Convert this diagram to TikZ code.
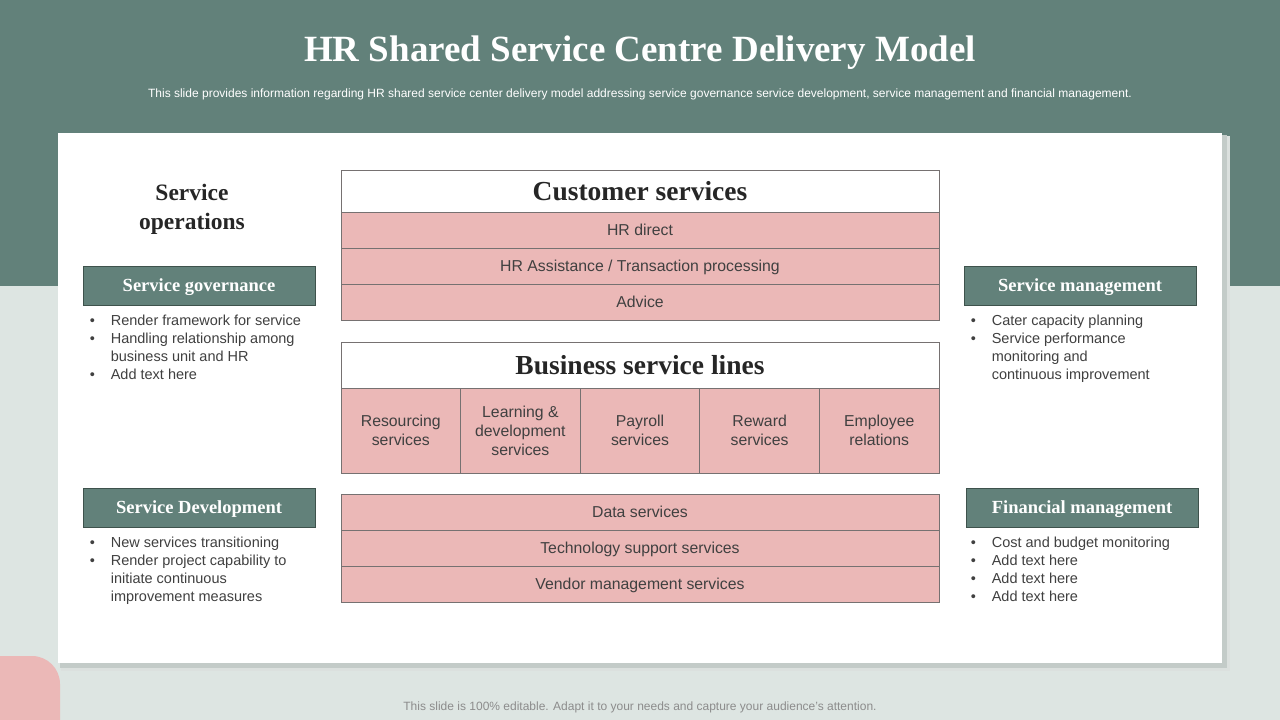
\documentclass[tikz,border=0pt]{standalone}
\usepackage{fontspec}
\setmainfont{Liberation Sans}
\newfontfamily\headfont{Liberation Serif}
\usetikzlibrary{positioning}
\definecolor{sagegreen}{HTML}{62817A}
\definecolor{sageedge}{HTML}{3E524C}
\definecolor{palebg}{HTML}{DDE5E2}
\definecolor{rosefill}{HTML}{EBB8B7}
\definecolor{textgray}{HTML}{404040}
\definecolor{headgray}{HTML}{262626}
\definecolor{linegray}{HTML}{767171}
\definecolor{shadowgray}{HTML}{C3CBC8}
\definecolor{notegray}{HTML}{8C8C8C}
\newcommand{\bul}{\makebox[21pt][l]{\textbullet}}
\newcommand{\ind}{\hspace*{21pt}}

\begin{document}
\begin{tikzpicture}[x=1pt,y=-1pt,
    headcell/.style={draw=linegray, fill=white, line width=1pt, outer sep=0pt, inner sep=0pt,
        minimum width=598pt, minimum height=42pt, text=headgray,
        font=\headfont\bfseries\fontsize{27.5}{30}\selectfont},
    pinkcell/.style={draw=linegray, fill=rosefill, line width=1pt, outer sep=0pt, inner sep=0pt,
        text=textgray, align=center, font=\fontsize{15.8}{19}\selectfont},
    rowcell/.style={pinkcell, minimum width=598pt, minimum height=36pt, text height=11.5pt, text depth=0pt},
    linecell/.style={pinkcell, minimum width=119.6pt, minimum height=85pt},
    greenlabel/.style={draw=sageedge, fill=sagegreen, line width=0.8pt, inner sep=0pt,
        minimum width=232pt, minimum height=39pt, text=white, text height=11.5pt, text depth=0pt,
        font=\headfont\bfseries\fontsize{18.5}{20}\selectfont},
    bulletlist/.style={inner sep=0pt, align=left, text=textgray,
        font=\fontsize{14.5}{17.8}\selectfont}]
    \useasboundingbox (0,0) rectangle (1280,720);
    %sfondo
    \fill[palebg] (0,0) rectangle (1280,720);
    \fill[sagegreen] (0,0) rectangle (1280,286);
    \fill[rosefill] (0,720) -- (0,656) [rounded corners=28pt] -- (60,656) [sharp corners] -- (60,720) -- cycle;
    %pannello bianco con ombra
    \fill[shadowgray!60] (61,136) rectangle (1230,671);
    \fill[shadowgray] (60,135) rectangle (1227,668);
    \fill[white] (58,133) rectangle (1222,663);
    %titolo
    \node[text=white, font=\headfont\bfseries\fontsize{37}{40}\selectfont] (title) at (640,53) {HR Shared Service Centre Delivery Model};
    \node[text=white, font=\fontsize{12}{13}\selectfont] (subtitle) at (640,94) {This slide provides information regarding HR shared service center delivery model addressing service governance service development, service management and financial management.};
    %colonna sinistra
    \node[text=headgray, align=center, font=\headfont\bfseries\fontsize{23.5}{29}\selectfont] (ops) at (192,209) {Service\\operations};
    \node[greenlabel] (gov) at (199,285.5) {Service governance};
    \node[bulletlist, below right=9.5pt and 7pt of gov.south west] (govlist) {\bul Render framework for service\\\bul Handling relationship among\\\ind business unit and HR\\\bul Add text here};
    \node[greenlabel] (dev) at (199,507.5) {Service Development};
    \node[bulletlist, below right=9.5pt and 7pt of dev.south west] (devlist) {\bul New services transitioning\\\bul Render project capability to\\\ind initiate continuous\\\ind improvement measures};
    %colonna destra
    \node[greenlabel] (mgmt) at (1080,285.5) {Service management};
    \node[bulletlist, below right=9.5pt and 7pt of mgmt.south west] (mgmtlist) {\bul Cater capacity planning\\\bul Service performance\\\ind monitoring and\\\ind continuous improvement};
    \node[greenlabel] (fin) at (1082,507.5) {Financial management};
    \node[bulletlist, below right=9.5pt and 5pt of fin.south west] (finlist) {\bul Cost and budget monitoring\\\bul Add text here\\\bul Add text here\\\bul Add text here};
    %customer services
    \node[headcell, anchor=north west] (cust) at (341,170) {Customer services};
    \node[rowcell, below=0pt of cust] (hrdirect) {HR direct};
    \node[rowcell, below=0pt of hrdirect] (hrassist) {HR Assistance / Transaction processing};
    \node[rowcell, below=0pt of hrassist] (advice) {Advice};
    %business service lines
    \node[headcell, minimum height=46pt, anchor=north west] (bsl) at (341,342) {Business service lines};
    \node[linecell, anchor=north west] (resourcing) at (bsl.south west) {Resourcing\\services};
    \node[linecell, right=0pt of resourcing] (learning) {Learning \&\\development\\services};
    \node[linecell, right=0pt of learning] (payroll) {Payroll\\services};
    \node[linecell, right=0pt of payroll] (reward) {Reward\\services};
    \node[linecell, right=0pt of reward] (employee) {Employee\\relations};
    %servizi di supporto
    \node[rowcell, anchor=north west] (data) at (341,494) {Data services};
    \node[rowcell, below=0pt of data] (tech) {Technology  support services};
    \node[rowcell, below=0pt of tech] (vendor) {Vendor management services};
    %nota
    \node[text=notegray, font=\fontsize{12}{13}\selectfont] (footer) at (640,707) {This slide is 100\% editable. Adapt it to your needs and capture your audience’s attention.};
\end{tikzpicture}
\end{document}
